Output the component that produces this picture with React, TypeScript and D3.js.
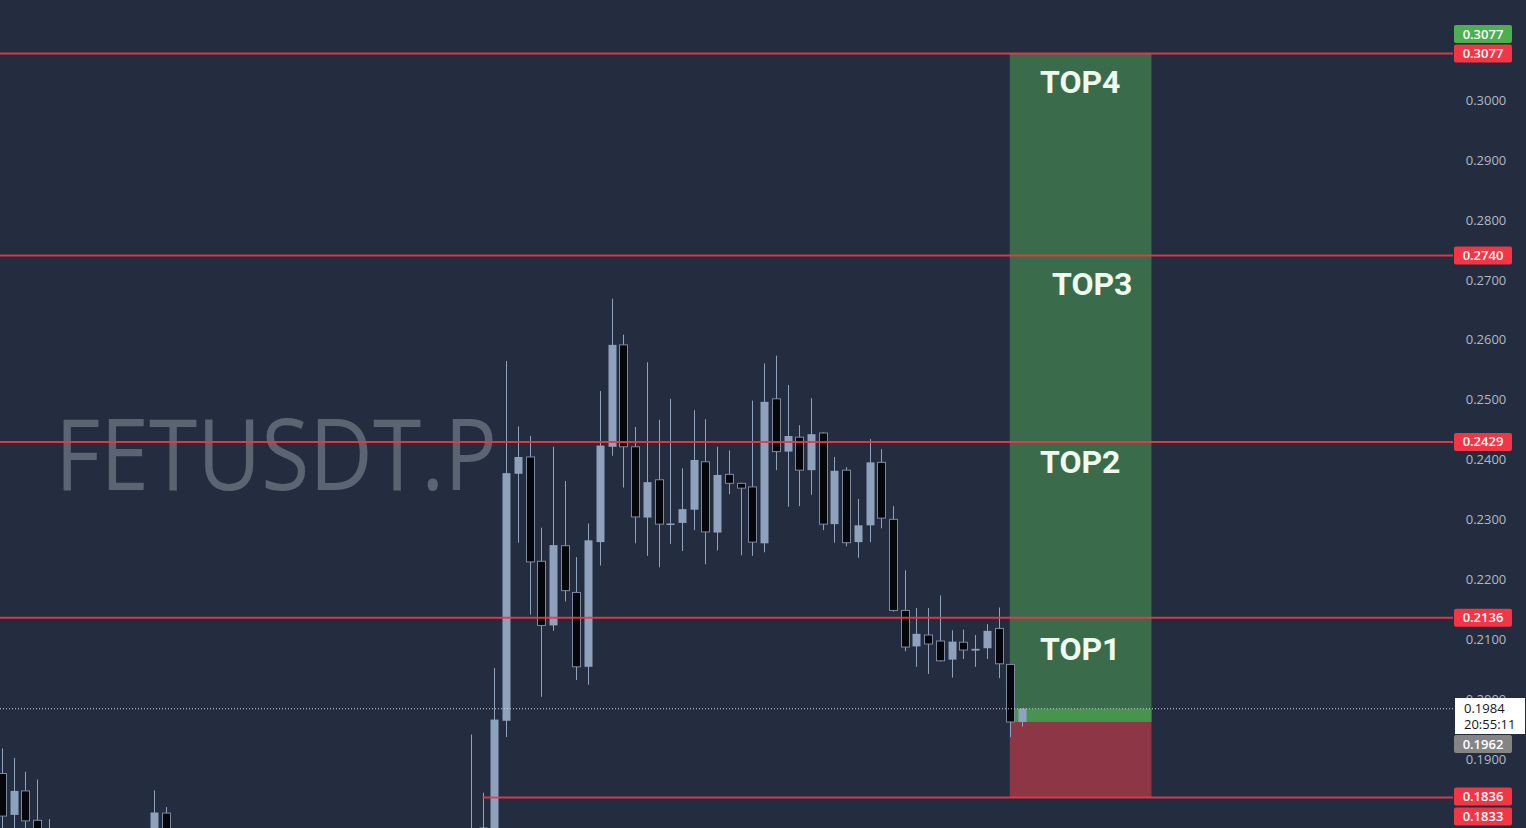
import React from "react";
import * as d3 from "d3";

const W = 1526;
const H = 828;

// candle data (index order, oldest first)
const opens = [
  0.1876, 0.1807, 0.1847, 0.1798, 0.1762, 0.1748, 0.1725, 0.1742, 0.1731, 0.1710,
  0.1735, 0.1758, 0.1745, 0.1768, 0.1810, 0.1750, 0.1730, 0.1741, 0.1755, 0.1738,
  0.1720, 0.1733, 0.1715, 0.1702, 0.1724, 0.1746, 0.1737, 0.1752, 0.1761, 0.1744,
  0.1729, 0.1740, 0.1756, 0.1742, 0.1726, 0.1738, 0.1751, 0.1745, 0.1760, 0.1749,
  0.1764, 0.1772, 0.1775, 0.1964, 0.2376, 0.2404, 0.2230, 0.2123, 0.2256, 0.2178,
  0.2054, 0.2262, 0.2421, 0.2591, 0.2421, 0.2303, 0.2366, 0.2292, 0.2294, 0.2316,
  0.2396, 0.2278, 0.2375, 0.2360, 0.2354, 0.2260, 0.2501, 0.2413, 0.2437, 0.2382,
  0.2444, 0.2292, 0.2382, 0.2262, 0.2290, 0.2395, 0.2300, 0.2148, 0.2088, 0.2107,
  0.2097, 0.2066, 0.2095, 0.2081, 0.2085, 0.2118, 0.2058, 0.1962,
];
const highs = [
  0.1918, 0.1902, 0.1879, 0.1866, 0.1800, 0.1772, 0.1760, 0.1768, 0.1755, 0.1746,
  0.1770, 0.1776, 0.1779, 0.1848, 0.1820, 0.1772, 0.1755, 0.1768, 0.1774, 0.1760,
  0.1745, 0.1752, 0.1738, 0.1730, 0.1758, 0.1771, 0.1763, 0.1777, 0.1775, 0.1766,
  0.1751, 0.1769, 0.1773, 0.1760, 0.1748, 0.1765, 0.1776, 0.1769, 0.1778, 0.1774,
  0.1941, 0.1844, 0.2052, 0.2564, 0.2455, 0.2439, 0.2286, 0.2421, 0.2364, 0.2237,
  0.2293, 0.2514, 0.2668, 0.2608, 0.2454, 0.2562, 0.2466, 0.2501, 0.2385, 0.2482,
  0.2467, 0.2421, 0.2415, 0.2361, 0.2498, 0.2560, 0.2573, 0.2524, 0.2457, 0.2502,
  0.2445, 0.2404, 0.2387, 0.2334, 0.2434, 0.2417, 0.2322, 0.2215, 0.2152, 0.2152,
  0.2173, 0.2115, 0.2116, 0.2107, 0.2125, 0.2153, 0.2058, 0.1985,
];
const lows = [
  0.1760, 0.1770, 0.1775, 0.1740, 0.1730, 0.1712, 0.1705, 0.1718, 0.1698, 0.1690,
  0.1722, 0.1735, 0.1738, 0.1752, 0.1738, 0.1722, 0.1702, 0.1728, 0.1731, 0.1712,
  0.1695, 0.1708, 0.1688, 0.1681, 0.1715, 0.1729, 0.1718, 0.1740, 0.1733, 0.1722,
  0.1706, 0.1727, 0.1736, 0.1719, 0.1703, 0.1724, 0.1737, 0.1728, 0.1741, 0.1733,
  0.1750, 0.1760, 0.1765, 0.1937, 0.2261, 0.2141, 0.2004, 0.2114, 0.2163, 0.2032,
  0.2024, 0.2223, 0.2406, 0.2353, 0.2260, 0.2239, 0.2220, 0.2259, 0.2247, 0.2282,
  0.2225, 0.2248, 0.2342, 0.2240, 0.2239, 0.2245, 0.2382, 0.2321, 0.2322, 0.2341,
  0.2282, 0.2261, 0.2255, 0.2236, 0.2262, 0.2285, 0.2146, 0.2080, 0.2054, 0.2042,
  0.2063, 0.2036, 0.2067, 0.2054, 0.2067, 0.2035, 0.1937, 0.1954,
];
const closes = [
  0.1805, 0.1847, 0.1797, 0.1760, 0.1748, 0.1725, 0.1742, 0.1731, 0.1710, 0.1735,
  0.1758, 0.1745, 0.1768, 0.1811, 0.1750, 0.1730, 0.1741, 0.1755, 0.1738, 0.1720,
  0.1733, 0.1715, 0.1702, 0.1724, 0.1746, 0.1737, 0.1752, 0.1761, 0.1744, 0.1729,
  0.1740, 0.1756, 0.1742, 0.1726, 0.1738, 0.1751, 0.1745, 0.1760, 0.1749, 0.1764,
  0.1772, 0.1786, 0.1966, 0.2377, 0.2404, 0.2229, 0.2123, 0.2257, 0.2181, 0.2054,
  0.2265, 0.2423, 0.2591, 0.2421, 0.2304, 0.2362, 0.2292, 0.2293, 0.2317, 0.2399,
  0.2279, 0.2374, 0.2360, 0.2352, 0.2262, 0.2496, 0.2413, 0.2439, 0.2382, 0.2442,
  0.2292, 0.2381, 0.2261, 0.2290, 0.2395, 0.2302, 0.2148, 0.2087, 0.2109, 0.2092,
  0.2064, 0.2096, 0.2082, 0.2084, 0.2114, 0.2059, 0.1962, 0.1984,
];

const priceTicks = [0.19, 0.2, 0.21, 0.22, 0.23, 0.24, 0.25, 0.26, 0.27, 0.28, 0.29, 0.3];
const levels = [0.3077, 0.274, 0.2429, 0.2136, 0.1836];
const levelStartIdx = [null, null, null, null, 41];
const topLabels = ["TOP4", "TOP3", "TOP2", "TOP1"];
const topLabelPrices = [0.3011, 0.2674, 0.2377, 0.2065];
const topLabelDx = [0, 12, 0, 0];
const entryPrice = 0.1962;
const targetPrice = 0.3077;
const stopPrice = 0.1836;
const currentPrice = 0.1984;
const stopLabel2 = 0.1833;
const countdown = "20:55:11";
const symbol = "FETUSDT.P";
const posStartIdx = 86;
const posEndIdx = 98;

export default function App() {
  const x = d3.scaleLinear().domain([0, 87]).range([2, 1022]);
  const y = d3.scaleLinear().domain([0.3077, 0.1836]).range([53.5, 797.5]);
  const plotRight = 1453;
  const bodyW = 8;
  const fmt = d3.format(".4f");
  const axisFont = "'Open Sans', 'DejaVu Sans', sans-serif";

  const bull = "#8fa2bd";
  const red = "#f23645";

  const labelBox = (price: number, cy: number, fill: string, key: string, textFill = "#ffffff") => (
    <g key={key}>
      <rect x={1454} y={cy - 9} width={58} height={18} rx={2} fill={fill} />
      <text x={1483} y={cy + 4.5} textAnchor="middle" fontFamily={axisFont} fontSize={13} fontWeight={600} fill={textFill}>
        {fmt(price)}
      </text>
    </g>
  );

  const px0 = x(posStartIdx) - 0.5;
  const px1 = x(posEndIdx) + 0.5;

  return (
    <svg width={W} height={H} style={{ position: "absolute", left: 0, top: 0, display: "block" }}>
      <rect x={0} y={0} width={W} height={H} fill="#232d3f" />
      {/* watermark */}
      <text x={55} y={490} fontFamily="'Open Sans', sans-serif" fontSize={98} fill="#5a6472" textLength={442} lengthAdjust="spacingAndGlyphs">
        {symbol}
      </text>
      {/* position box */}
      <rect x={px0} y={y(targetPrice)} width={px1 - px0} height={y(entryPrice) - y(targetPrice)} fill="#3a6c4b" />
      <rect x={px0} y={y(currentPrice)} width={px1 - px0} height={y(entryPrice) - y(currentPrice)} fill="#47944f" />
      <rect x={px0} y={y(entryPrice)} width={px1 - px0} height={y(stopPrice) - y(entryPrice)} fill="#8c3646" />
      {/* candles */}
      <g>
        {closes.map((c, i) => {
          const o = opens[i];
          const up = c >= o;
          const cx = Math.round(x(i)) + 0.5;
          const top = y(Math.max(o, c));
          const bot = y(Math.min(o, c));
          return (
            <g key={i}>
              <line x1={cx} x2={cx} y1={y(highs[i])} y2={y(lows[i])} stroke={bull} strokeWidth={1} />
              <rect
                x={cx - bodyW / 2}
                y={top}
                width={bodyW}
                height={Math.max(1.5, bot - top)}
                fill={up ? bull : "#05070b"}
                stroke={up ? bull : "#7c8aa0"}
                strokeWidth={up ? 0 : 1}
              />
            </g>
          );
        })}
      </g>
      {/* level lines */}
      {levels.map((lv, i) => (
        <line
          key={lv}
          x1={levelStartIdx[i] == null ? 0 : x(levelStartIdx[i] as number)}
          x2={plotRight}
          y1={y(lv)}
          y2={y(lv)}
          stroke={red}
          strokeWidth={2}
          opacity={0.92}
        />
      ))}
      {/* current price dotted line */}
      <line x1={0} x2={plotRight} y1={y(currentPrice)} y2={y(currentPrice)} stroke="#c9d1dc" strokeWidth={1} strokeDasharray="1 2" />
      {/* TOP labels */}
      {topLabels.map((t, i) => (
        <text
          key={t}
          x={1040 + topLabelDx[i]}
          y={y(topLabelPrices[i])}
          fontFamily="Roboto, 'Open Sans', sans-serif"
          fontWeight={700}
          fontSize={32}
          fill="#effbef"
        >
          {t}
        </text>
      ))}
      {/* price axis ticks */}
      {priceTicks.map((p) => (
        <text key={p} x={1486} y={y(p) + 5} textAnchor="middle" fontFamily={axisFont} fontSize={13} fill="#b2b8c3">
          {fmt(p)}
        </text>
      ))}
      {/* axis labels */}
      {labelBox(targetPrice, y(targetPrice) - 19.5, "#4caf50", "tg")}
      {levels.slice(0, 4).map((lv) => labelBox(lv, y(lv), red, "l" + lv))}
      {labelBox(stopPrice, y(stopPrice) - 1, red, "sl")}
      {labelBox(stopLabel2, y(stopPrice) + 19, red, "sl2")}
      <g>
        <rect x={1455} y={698} width={70} height={36} fill="#ffffff" />
        <text x={1464} y={713} fontFamily={axisFont} fontSize={13} fill="#131722">
          {fmt(currentPrice)}
        </text>
        <text x={1464} y={729} fontFamily={axisFont} fontSize={13} fill="#131722">
          {countdown}
        </text>
      </g>
      {labelBox(entryPrice, 744, "#858585", "entry")}
    </svg>
  );
}
